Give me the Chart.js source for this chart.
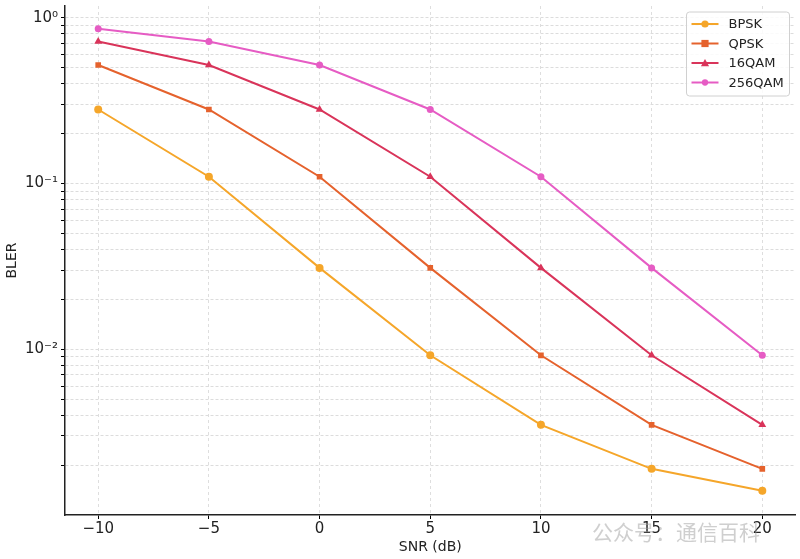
<!DOCTYPE html>
<html>
<head>
<meta charset="utf-8">
<script src="https://cdn.jsdelivr.net/npm/chart.js@4.4.0/dist/chart.umd.min.js"></script>
<style>
  html, body { margin: 0; padding: 0; background: #fff; }
  #wrap { width: 800px; height: 559px; }
</style>
</head>
<body>
<div id="wrap"><canvas id="grafico" width="800" height="559"></canvas></div>
<script>
// dados
const snr = [-10, -5, 0, 5, 10, 15, 20];
const bpsk   = [0.28, 0.11, 0.031, 0.0092, 0.0035, 0.0019, 0.0014];
const qpsk   = [0.52, 0.28, 0.11, 0.031, 0.0092, 0.0035, 0.0019];
const qam16  = [0.72, 0.52, 0.28, 0.11, 0.031, 0.0092, 0.0035];
const qam256 = [0.86, 0.72, 0.52, 0.28, 0.11, 0.031, 0.0092];

const nomes = ['BPSK', 'QPSK', '16QAM', '256QAM'];
const cores = ['#f5a62a', '#e5622d', '#d9345a', '#e65cc4'];
const marcadores = ['circle', 'rect', 'triangle', 'circle'];
const raios = [4, 4, 4.5, 3.5];

const xTicks = [-10, -5, 0, 5, 10, 15, 20];
const yMajor = [1, 0.1, 0.01];
const yLabels = ['10\u2070', '10\u207B\u00B9', '10\u207B\u00B2'];

const series = [bpsk, qpsk, qam16, qam256];

const fonte = 'DejaVu Sans';

function pontos(ys) {
  return snr.map((x, i) => ({ x: x, y: ys[i] }));
}

const datasets = series.map((ys, i) => ({
  label: nomes[i],
  data: pontos(ys),
  borderColor: cores[i],
  backgroundColor: cores[i],
  borderWidth: 2,
  pointStyle: marcadores[i],
  pointRadius: raios[i],
  pointHoverRadius: raios[i],
  pointBorderWidth: 0,
  tension: 0
}));

function desenhaMarcador(ctx, estilo, x, y, r) {
  ctx.beginPath();
  if (estilo === 'rect') {
    ctx.rect(x - r, y - r, 2 * r, 2 * r);
  } else if (estilo === 'triangle') {
    ctx.moveTo(x, y - r);
    ctx.lineTo(x + r, y + r * 0.8);
    ctx.lineTo(x - r, y + r * 0.8);
    ctx.closePath();
  } else {
    ctx.arc(x, y, r, 0, Math.PI * 2);
  }
  ctx.fill();
}

// legenda dentro da area do grafico
const legendaInterna = {
  id: 'legendaInterna',
  afterDraw(chart) {
    const ctx = chart.ctx;
    const area = chart.chartArea;
    const w = 103, h = 84;
    const x0 = area.right - w - 6;
    const y0 = area.top + 6;
    ctx.save();
    ctx.fillStyle = 'rgba(255,255,255,0.85)';
    ctx.strokeStyle = '#d0d0d0';
    ctx.lineWidth = 1;
    ctx.beginPath();
    ctx.roundRect(x0, y0, w, h, 3);
    ctx.fill();
    ctx.stroke();
    ctx.font = '13px "' + fonte + '"';
    ctx.textBaseline = 'middle';
    chart.data.datasets.forEach((ds, i) => {
      const yy = y0 + 12 + i * 19.5;
      ctx.strokeStyle = ds.borderColor;
      ctx.lineWidth = 2;
      ctx.beginPath();
      ctx.moveTo(x0 + 5, yy);
      ctx.lineTo(x0 + 32, yy);
      ctx.stroke();
      ctx.fillStyle = ds.borderColor;
      desenhaMarcador(ctx, ds.pointStyle, x0 + 18.5, yy, ds.pointRadius * 0.9);
      ctx.fillStyle = '#222';
      ctx.fillText(ds.label, x0 + 42, yy + 1);
    });
    ctx.restore();
  }
};

// marca d'agua
const marcaDagua = {
  id: 'marcaDagua',
  afterDraw(chart) {
    const ctx = chart.ctx;
    ctx.save();
    ctx.fillStyle = 'rgba(160,160,160,0.5)';
    ctx.font = '21px "Noto Sans CJK SC"';
    ctx.textBaseline = 'middle';
    ctx.fillText('\u516C\u4F17\u53F7\uFF1A\u901A\u4FE1\u767E\u79D1', 592, 532);
    ctx.restore();
  }
};

new Chart(document.getElementById('grafico'), {
  type: 'line',
  data: { datasets: datasets },
  plugins: [legendaInterna, marcaDagua],
  options: {
    responsive: false,
    animation: false,
    layout: { padding: { top: 6, right: 3, left: 0, bottom: 0 } },
    plugins: {
      legend: { display: false },
      tooltip: { enabled: false }
    },
    scales: {
      x: {
        type: 'linear',
        min: -11.5,
        max: 21.5,
        afterBuildTicks: (scale) => { scale.ticks = xTicks.map(v => ({ value: v })); },
        afterFit: (scale) => { scale.height = 44; },
        ticks: {
          color: '#222',
          font: { family: fonte, size: 15 },
          padding: 1,
          maxRotation: 0,
          callback: (v) => v < 0 ? '\u2212' + Math.abs(v) : String(v)
        },
        grid: {
          color: '#dedede',
          lineWidth: 1,
          tickColor: '#000',
          tickLength: 4
        },
        border: { display: true, color: '#222', width: 1.5, dash: [3, 3] },
        title: {
          display: true,
          text: 'SNR (dB)',
          color: '#222',
          font: { family: fonte, size: 14 },
          padding: { top: 0, bottom: 3 }
        }
      },
      y: {
        type: 'logarithmic',
        min: 0.001,
        max: 1.18,
        afterBuildTicks: (scale) => {
          const t = [];
          for (let e = -3; e <= 0; e++) {
            for (let m = 1; m <= 9; m++) {
              const v = m * Math.pow(10, e);
              if (v > scale.min * 1.01 && v <= scale.max) t.push({ value: v });
            }
          }
          scale.ticks = t;
        },
        afterFit: (scale) => {
          scale.width = 65;
          scale.paddingTop = 0;
          scale.paddingBottom = 0;
        },
        ticks: {
          autoSkip: false,
          color: '#222',
          font: { family: fonte, size: 15 },
          padding: 3,
          callback: (v) => {
            for (let i = 0; i < yMajor.length; i++) {
              if (Math.abs(v - yMajor[i]) < yMajor[i] * 1e-6) return yLabels[i];
            }
            return '';
          }
        },
        grid: {
          color: '#dcdcdc',
          lineWidth: 1,
          tickColor: '#000',
          tickLength: 4
        },
        border: { display: true, color: '#222', width: 1.5, dash: [3, 2] },
        title: {
          display: true,
          text: 'BLER',
          color: '#222',
          font: { family: fonte, size: 14 },
          padding: { top: 4, bottom: 2 }
        }
      }
    }
  }
});
</script>
</body>
</html>
